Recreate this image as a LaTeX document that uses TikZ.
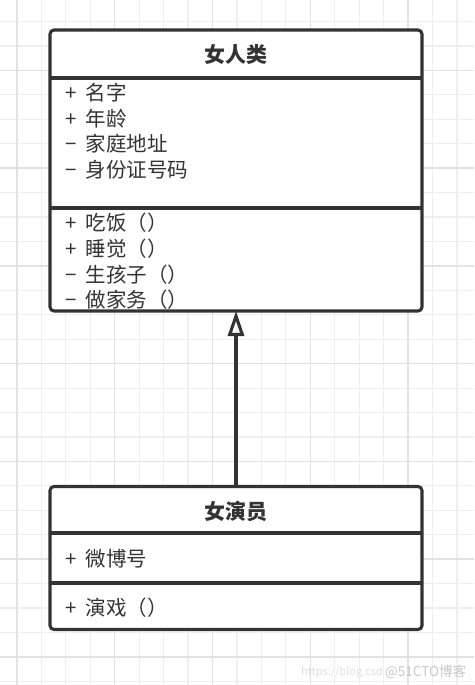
\documentclass[tikz,border=0pt]{standalone}
\usepackage{fontspec}
\setmainfont{Noto Sans CJK SC}
\usetikzlibrary{arrows.meta}
\definecolor{ink}{HTML}{333333}
\definecolor{gridminor}{HTML}{EFEFEF}
\definecolor{gridmajor}{HTML}{E2E2E2}
\definecolor{wmark}{HTML}{C8C8C8}
\definecolor{wmarkfaint}{HTML}{E0E0E0}
\newcommand{\sgn}[1]{\makebox[20.5pt][l]{#1}}
\begin{document}
\begin{tikzpicture}[x=1pt,y=-1pt,
  umlbox/.style={draw=ink, line width=3.1pt, fill=white, rounded corners=4pt, inner sep=0pt, outer sep=0pt},
  title/.style={font=\fontsize{21}{24}\selectfont\bfseries, text=ink, inner sep=0pt},
  member/.style={anchor=west, font=\fontsize{20.5}{24}\selectfont, text=ink, inner sep=0pt},
  sepline/.style={draw=ink, line width=3.1pt},
  gridmin/.style={draw=gridminor, line width=1.2pt},
  gridmaj/.style={draw=gridmajor, line width=1.4pt},
  inherit/.style={draw=ink, line width=3.1pt, -{Triangle[open, length=25pt 0, width=16pt 0]}},
  wm/.style={inner sep=0pt}]
\useasboundingbox (0,0) rectangle (474,685);
\fill[white] (0,0) rectangle (474,685);
% grid
\foreach \i in {0,...,18} {
  \pgfmathsetmacro\xx{17+24.44*\i}
  \draw[gridmin] (\xx,0) -- (\xx,685);
}
\foreach \j in {0,...,27} {
  \pgfmathsetmacro\yy{21.5+24.44*\j}
  \draw[gridmin] (0,\yy) -- (474,\yy);
}
\foreach \i in {0,4,...,16} {
  \pgfmathsetmacro\xx{17+24.44*\i}
  \draw[gridmaj] (\xx,0) -- (\xx,685);
}
\foreach \j in {2,6,...,26} {
  \pgfmathsetmacro\yy{21.5+24.44*\j}
  \draw[gridmaj] (0,\yy) -- (474,\yy);
}
% top class
\node[umlbox, minimum width=372pt, minimum height=281pt] (woman) at (236,170.5) {};
\coordinate (ws1) at (236,78);
\coordinate (ws2) at (236,208);
\draw[sepline] (woman.west |- ws1) -- (woman.east |- ws1);
\draw[sepline] (woman.west |- ws2) -- (woman.east |- ws2);
\node[title] (wt) at (236,54) {女人类};
\node[member] (wa1) at (65,93) {\sgn{+}名字};
\node[member] (wa2) at (65,118.5) {\sgn{+}年龄};
\node[member] (wa3) at (65,144) {\sgn{−}家庭地址};
\node[member] (wa4) at (65,169.5) {\sgn{−}身份证号码};
\node[member] (wm1) at (65,223) {\sgn{+}吃饭（）};
\node[member] (wm2) at (65,248.5) {\sgn{+}睡觉（）};
\node[member] (wm3) at (65,274.5) {\sgn{−}生孩子（）};
\node[member] (wm4) at (65,300) {\sgn{−}做家务（）};
% bottom class
\node[umlbox, minimum width=372pt, minimum height=143pt] (actress) at (236,558) {};
\coordinate (as1) at (236,533);
\coordinate (as2) at (236,583);
\draw[sepline] (actress.west |- as1) -- (actress.east |- as1);
\draw[sepline] (actress.west |- as2) -- (actress.east |- as2);
\node[title] (at) at (236,512) {女演员};
\node[member] (aa1) at (65,559) {\sgn{+}微博号};
\node[member] (am1) at (65,608) {\sgn{+}演戏（）};
% inheritance
\draw[inherit] (actress.north) -- (woman.south);
% watermark
\node[wm, anchor=west, font=\fontsize{13.5}{15}\selectfont, text=wmark] (wm9) at (385,672) {@51CTO博客};
\node[wm, anchor=east, font=\fontsize{11}{13}\selectfont, text=wmarkfaint] (wm0) at (383,672) {https://blog.csd};
\end{tikzpicture}
\end{document}
